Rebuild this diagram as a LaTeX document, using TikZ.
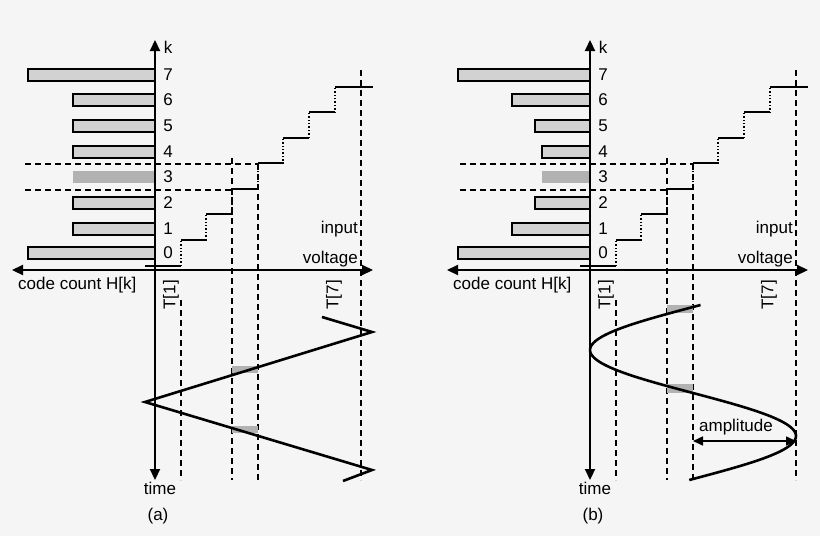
\documentclass[tikz,border=0pt]{standalone}
\usepackage{fontspec}
\setmainfont{Liberation Sans}
\usetikzlibrary{arrows.meta}
\begin{document}
\begin{tikzpicture}[x=1pt,y=-1pt,font=\fontsize{17}{19}\selectfont,
  axis/.style={line width=2.2pt,-{Triangle[length=11pt,width=10pt]}},
  bar/.style={draw,line width=1.6pt,fill=gray!35},
  hbar/.style={fill=gray!60},
  dsh/.style={dashed,line width=1.3pt,dash pattern=on 6pt off 4pt},
  stp/.style={line width=2.6pt},
  rise/.style={line width=1.4pt,dotted},
  lbl/.style={inner sep=0pt},
  wave/.style={line width=2.6pt}]
\useasboundingbox[fill=white!96!black] (0,0) rectangle (820,536);
\foreach \ox/\lab in {0/a,435/b}{
\begin{scope}[xshift=\ox pt]
 \foreach \y/\k in {253/0,229/1,203/2,177/3,152/4,126/5,100/6,75/7}{
   \node[lbl] (t\lab\k) at (168,\y) {\k};
 }
\end{scope}}
% bars panel a
\foreach \k/\y/\l in {0/253/28,1/229/73,2/203/73,4/152/73,5/126/73,6/100/73,7/75/28}
  \draw[bar] (\l,\y-6) rectangle (155,\y+6);
\fill[hbar] (73,171) rectangle (155,183);
% bars panel b
\foreach \k/\y/\l in {0/253/458,1/229/512,2/203/535,4/152/542,5/126/535,6/100/512,7/75/458}
  \draw[bar] (\l,\y-6) rectangle (590,\y+6);
\fill[hbar] (542,171) rectangle (590,183);

\foreach \ox/\lab in {0/a,435/b}{
\begin{scope}[xshift=\ox pt]
 \coordinate (top\lab) at (155,40);
 \coordinate (bot\lab) at (155,480);
 \coordinate (L\lab) at (12,270);
 \coordinate (R\lab) at (373,270);
 \coordinate (O\lab) at (155,270);
 \draw[axis] (O\lab) -- (top\lab);
 \draw[axis] (O\lab) -- (bot\lab);
 \draw[axis] (O\lab) -- (L\lab);
 \draw[axis] (O\lab) -- (R\lab);
 \node[lbl] (k\lab) at (168,47) {k};
 \node[lbl,anchor=north west] (cc\lab) at (18,277) {code count H[k]};
 \node[lbl,anchor=east] (in\lab) at (358,229) {input};
 \node[lbl,anchor=east] (vo\lab) at (358,259) {voltage};
 \node[lbl] (ti\lab) at (160,488) {time};
 \node[lbl] (cap\lab) at (158,516) {(\lab)};
 \node[lbl,rotate=90,anchor=south east] (T1\lab) at (179,280) {T[1]};
 \node[lbl,rotate=90,anchor=south east] (T7\lab) at (342,280) {T[7]};
 \draw[dsh] (181,300) -- (181,480);
 \draw[dsh] (232,158) -- (232,480);
 \draw[dsh] (258,164) -- (258,480);
 \draw[dsh] (361,70) -- (361,480);
 \draw[dsh] (25,164) -- (258,164);
 \draw[dsh] (25,190) -- (232,190);
 \draw[stp] (145,266) -- (181,266);
 \foreach \x/\y in {181/240,206/214,232/189,258/163,283/138,309/112,335/87}{
   \draw[rise] (\x,\y+26) -- (\x,\y);
   \draw[stp] (\x,\y) -- (\x+26,\y);
 }
 \draw[stp] (335,87) -- (373,87);
\end{scope}}
% triangle wave (a)
\fill[hbar] (232,366) rectangle (258,373);
\fill[hbar] (232,426) rectangle (258,433);
\draw[wave,line join=miter] (322,317) -- (372,332) -- (145,402) -- (372,470) -- (343,481);
% sine (b)
\fill[hbar] (667,305) rectangle (693,313);
\fill[hbar] (667,384) rectangle (693,393);
\draw[wave,domain=-45:130,samples=100,smooth] plot ({693-103*cos(2.093*\x)},{350+\x});
\coordinate (am1) at (693,441);
\coordinate (am2) at (796,441);
\draw[line width=1.6pt,{Triangle[length=10pt,width=9pt]}-{Triangle[length=10pt,width=9pt]}] (am1) -- (am2);
\node[lbl] (amp) at (736,427) {amplitude};
\end{tikzpicture}
\end{document}
